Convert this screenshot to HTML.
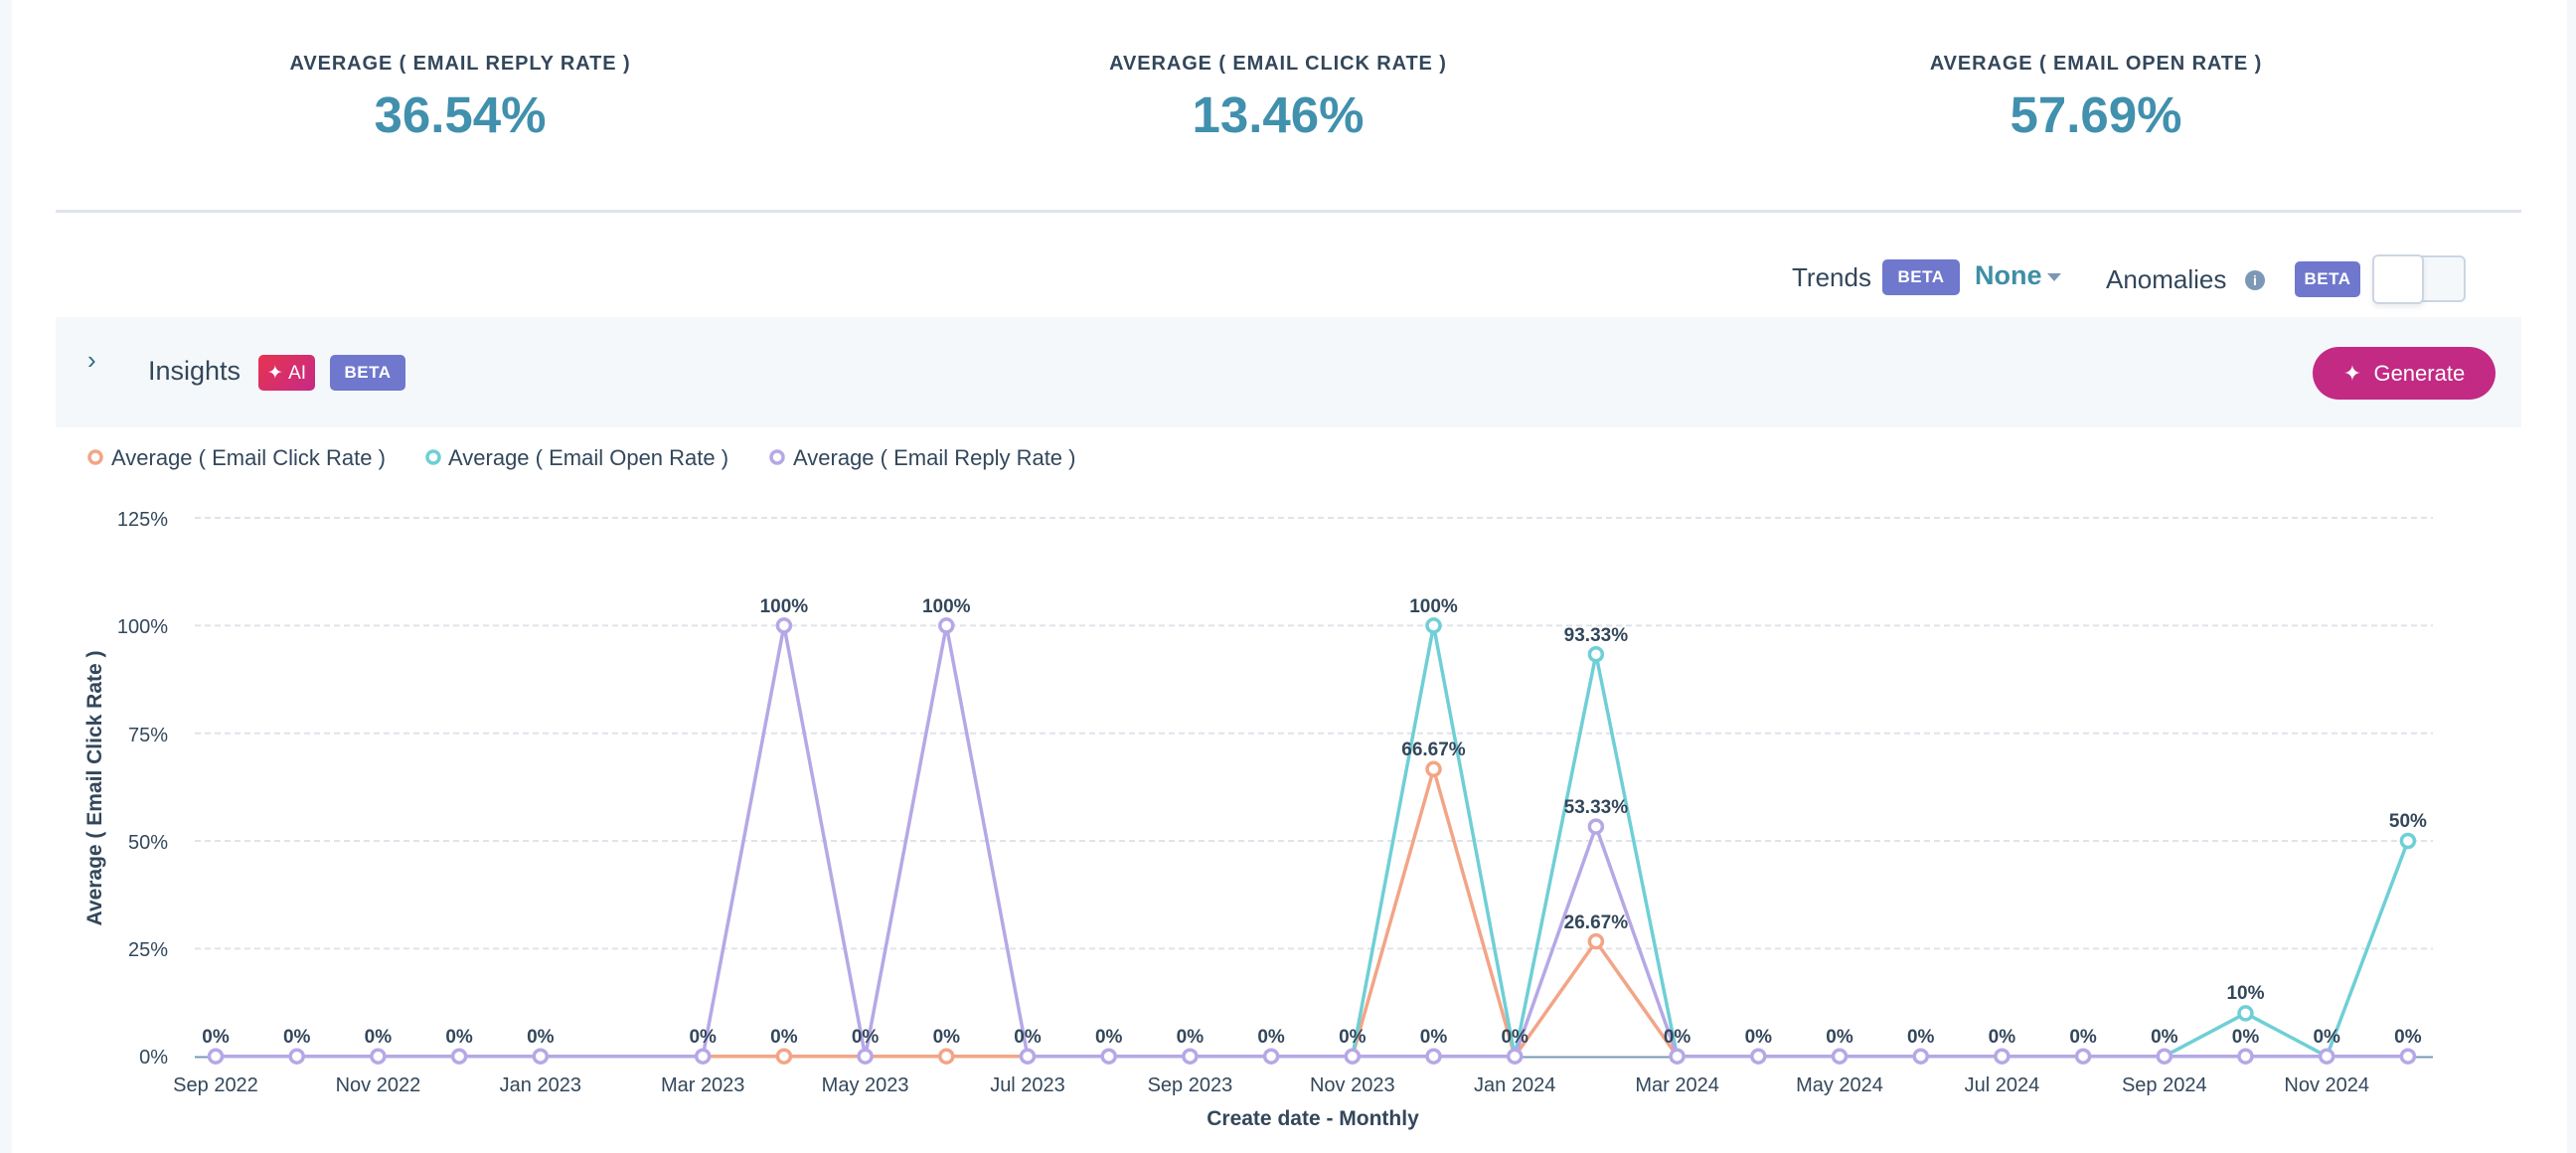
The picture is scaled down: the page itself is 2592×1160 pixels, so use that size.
<!DOCTYPE html>
<html><head><meta charset="utf-8"><style>
*{margin:0;padding:0;box-sizing:border-box}
body{width:2592px;height:1160px;background:#fff;position:relative;overflow:hidden;font-family:"Liberation Sans",sans-serif;color:#33475b}
.abs{position:absolute}
.h{font-weight:bold;font-size:20px;letter-spacing:0.9px;text-align:center;width:700px;top:53px}
.v{font-weight:bold;font-size:51px;color:#4190ad;text-align:center;width:700px;top:86px}
.badge{position:absolute;background:#6f78cc;color:#fff;font-weight:bold;font-size:17px;border-radius:5px;display:flex;align-items:center;justify-content:center;letter-spacing:0.5px}
</style></head><body>
<div class="abs" style="left:0;top:0;width:12px;height:1160px;background:#f5f8fa"></div>
<div class="abs" style="left:2583px;top:0;width:9px;height:1160px;background:#f5f8fa"></div>

<div class="abs h" style="left:113px">AVERAGE ( EMAIL REPLY RATE )</div>
<div class="abs v" style="left:113px">36.54%</div>
<div class="abs h" style="left:936px">AVERAGE ( EMAIL CLICK RATE )</div>
<div class="abs v" style="left:936px">13.46%</div>
<div class="abs h" style="left:1759px">AVERAGE ( EMAIL OPEN RATE )</div>
<div class="abs v" style="left:1759px">57.69%</div>

<div class="abs" style="left:56px;top:211px;width:2481px;height:3px;background:#dfe3eb"></div>

<div class="abs" style="left:1803px;top:264px;font-size:26px">Trends</div>
<div class="badge" style="left:1894px;top:261px;width:78px;height:36px">BETA</div>
<div class="abs" style="left:1987px;top:262px;font-size:27px;font-weight:bold;color:#3f8ea5">None</div>
<div class="abs" style="left:2060px;top:275px;width:0;height:0;border-left:7px solid transparent;border-right:7px solid transparent;border-top:8px solid #7c98b6"></div>
<div class="abs" style="left:2119px;top:266px;font-size:26px">Anomalies</div>
<div class="abs" style="left:2259px;top:272px;width:20px;height:20px;border-radius:50%;background:#7c98b6;color:#fff;font-size:14px;font-weight:bold;text-align:center;line-height:20px">i</div>
<div class="badge" style="left:2309px;top:263px;width:66px;height:36px">BETA</div>
<div class="abs" style="left:2387px;top:257px;width:94px;height:47px;border:2px solid #cbd6e2;border-radius:6px;background:#f5f8fa"></div>
<div class="abs" style="left:2387px;top:256px;width:52px;height:50px;border:2px solid #cbd6e2;border-radius:6px;background:#fff;box-shadow:0 3px 6px rgba(0,0,0,0.08)"></div>

<div class="abs" style="left:56px;top:319px;width:2481px;height:111px;background:#f5f8fa"></div>
<div class="abs" style="left:88px;top:347px;font-size:26px;color:#2d6e80">&#8250;</div>
<div class="abs" style="left:149px;top:358px;font-size:27px">Insights</div>
<div class="abs" style="left:260px;top:357px;width:57px;height:36px;border-radius:5px;background:linear-gradient(135deg,#e8344f,#c52a86);color:#fff;font-size:19px;display:flex;align-items:center;justify-content:center">&#10022;&nbsp;AI</div>
<div class="badge" style="left:332px;top:357px;width:76px;height:36px">BETA</div>
<div class="abs" style="left:2327px;top:349px;width:184px;height:53px;border-radius:27px;background:#c22a84;color:#fff;font-size:22px;display:flex;align-items:center;justify-content:center">&#10022;&nbsp;&nbsp;Generate</div>

<svg class="abs" style="left:0;top:0" width="2592" height="1160" font-family="Liberation Sans, sans-serif">
<g font-size="22" fill="#33475b">
<circle cx="96" cy="460" r="6" fill="#fff" stroke="#f2a586" stroke-width="3.5"/><text x="112" y="468">Average ( Email Click Rate )</text>
<circle cx="436" cy="460" r="6" fill="#fff" stroke="#6fcfd6" stroke-width="3.5"/><text x="451" y="468">Average ( Email Open Rate )</text>
<circle cx="782" cy="460" r="6" fill="#fff" stroke="#b6a8e6" stroke-width="3.5"/><text x="798" y="468">Average ( Email Reply Rate )</text>
</g>
<g stroke="#dfe3eb" stroke-width="2" stroke-dasharray="6,4">
<line x1="196" y1="521" x2="2448" y2="521"/><line x1="196" y1="629.4" x2="2448" y2="629.4"/><line x1="196" y1="737.7" x2="2448" y2="737.7"/><line x1="196" y1="846" x2="2448" y2="846"/><line x1="196" y1="954.4" x2="2448" y2="954.4"/>
</g>
<g font-size="20" fill="#33475b" text-anchor="end">
<text x="169" y="529">125%</text><text x="169" y="637">100%</text><text x="169" y="746">75%</text><text x="169" y="854">50%</text><text x="169" y="962">25%</text><text x="169" y="1070">0%</text>
</g>
<text transform="translate(102,793) rotate(-90)" text-anchor="middle" font-size="21" font-weight="bold" fill="#33475b">Average ( Email Click Rate )</text>
<line x1="196" y1="1063.5" x2="2448" y2="1063.5" stroke="#7c98b6" stroke-width="2"/>
<g font-size="20" fill="#33475b" text-anchor="middle">
<text x="217" y="1098">Sep 2022</text><text x="380.4" y="1098">Nov 2022</text><text x="543.8" y="1098">Jan 2023</text><text x="707.2" y="1098">Mar 2023</text><text x="870.6" y="1098">May 2023</text><text x="1034" y="1098">Jul 2023</text><text x="1197.4" y="1098">Sep 2023</text><text x="1360.8" y="1098">Nov 2023</text><text x="1524.2" y="1098">Jan 2024</text><text x="1687.6" y="1098">Mar 2024</text><text x="1851" y="1098">May 2024</text><text x="2014.4" y="1098">Jul 2024</text><text x="2177.8" y="1098">Sep 2024</text><text x="2341.2" y="1098">Nov 2024</text>
</g>
<text x="1321" y="1132" text-anchor="middle" font-size="21" font-weight="bold" fill="#33475b">Create date - Monthly</text>

<g fill="none" stroke-width="3.5" stroke-linejoin="round">
<polyline stroke="#f2a586" points="707.2,1062.7 788.9,1062.7 870.6,1062.7 952.3,1062.7 1034,1062.7 1115.7,1062.7 1197.4,1062.7 1279.1,1062.7 1360.8,1062.7 1442.5,773.8 1524.2,1062.7 1605.9,947.1 1687.6,1062.7"/>
<polyline stroke="#6fcfd6" points="1360.8,1062.7 1442.5,629.4 1524.2,1062.7 1605.9,658.3 1687.6,1062.7 1769.3,1062.7 1851,1062.7 1932.7,1062.7 2014.4,1062.7 2096.1,1062.7 2177.8,1062.7 2259.5,1019.4 2341.2,1062.7 2422.9,846"/>
<polyline stroke="#b6a8e6" points="217,1062.7 298.7,1062.7 380.4,1062.7 462.1,1062.7 543.8,1062.7 707.2,1062.7 788.9,629.4 870.6,1062.7 952.3,629.4 1034,1062.7 1115.7,1062.7 1197.4,1062.7 1279.1,1062.7 1360.8,1062.7 1442.5,1062.7 1524.2,1062.7 1605.9,831.6 1687.6,1062.7 1769.3,1062.7 1851,1062.7 1932.7,1062.7 2014.4,1062.7 2096.1,1062.7 2177.8,1062.7 2259.5,1062.7 2341.2,1062.7 2422.9,1062.7"/>
</g>
<g fill="#fff" stroke-width="3.5">
<g stroke="#f2a586"><circle cx="788.9" cy="1062.7" r="6.5"/><circle cx="952.3" cy="1062.7" r="6.5"/><circle cx="1442.5" cy="773.8" r="6.5"/><circle cx="1605.9" cy="947.1" r="6.5"/></g>
<g stroke="#6fcfd6"><circle cx="1442.5" cy="629.4" r="6.5"/><circle cx="1605.9" cy="658.3" r="6.5"/><circle cx="2259.5" cy="1019.4" r="6.5"/><circle cx="2422.9" cy="846" r="6.5"/></g>
<g stroke="#b6a8e6"><circle cx="217" cy="1062.7" r="6.5"/><circle cx="298.7" cy="1062.7" r="6.5"/><circle cx="380.4" cy="1062.7" r="6.5"/><circle cx="462.1" cy="1062.7" r="6.5"/><circle cx="543.8" cy="1062.7" r="6.5"/><circle cx="707.2" cy="1062.7" r="6.5"/><circle cx="788.9" cy="629.4" r="6.5"/><circle cx="870.6" cy="1062.7" r="6.5"/><circle cx="952.3" cy="629.4" r="6.5"/><circle cx="1034" cy="1062.7" r="6.5"/><circle cx="1115.7" cy="1062.7" r="6.5"/><circle cx="1197.4" cy="1062.7" r="6.5"/><circle cx="1279.1" cy="1062.7" r="6.5"/><circle cx="1360.8" cy="1062.7" r="6.5"/><circle cx="1442.5" cy="1062.7" r="6.5"/><circle cx="1524.2" cy="1062.7" r="6.5"/><circle cx="1605.9" cy="831.6" r="6.5"/><circle cx="1687.6" cy="1062.7" r="6.5"/><circle cx="1769.3" cy="1062.7" r="6.5"/><circle cx="1851" cy="1062.7" r="6.5"/><circle cx="1932.7" cy="1062.7" r="6.5"/><circle cx="2014.4" cy="1062.7" r="6.5"/><circle cx="2096.1" cy="1062.7" r="6.5"/><circle cx="2177.8" cy="1062.7" r="6.5"/><circle cx="2259.5" cy="1062.7" r="6.5"/><circle cx="2341.2" cy="1062.7" r="6.5"/><circle cx="2422.9" cy="1062.7" r="6.5"/></g>
</g>
<g font-size="19" font-weight="bold" fill="#33475b" text-anchor="middle">
<text x="217" y="1049">0%</text><text x="298.7" y="1049">0%</text><text x="380.4" y="1049">0%</text><text x="462.1" y="1049">0%</text><text x="543.8" y="1049">0%</text><text x="707.2" y="1049">0%</text><text x="788.9" y="1049">0%</text><text x="870.6" y="1049">0%</text><text x="952.3" y="1049">0%</text><text x="1034" y="1049">0%</text><text x="1115.7" y="1049">0%</text><text x="1197.4" y="1049">0%</text><text x="1279.1" y="1049">0%</text><text x="1360.8" y="1049">0%</text><text x="1442.5" y="1049">0%</text><text x="1524.2" y="1049">0%</text><text x="1687.6" y="1049">0%</text><text x="1769.3" y="1049">0%</text><text x="1851" y="1049">0%</text><text x="1932.7" y="1049">0%</text><text x="2014.4" y="1049">0%</text><text x="2096.1" y="1049">0%</text><text x="2177.8" y="1049">0%</text><text x="2259.5" y="1049">0%</text><text x="2341.2" y="1049">0%</text><text x="2422.9" y="1049">0%</text>
<text x="788.9" y="616">100%</text><text x="952.3" y="616">100%</text><text x="1442.5" y="616">100%</text><text x="1442.5" y="760">66.67%</text><text x="1605.9" y="645">93.33%</text><text x="1605.9" y="818">53.33%</text><text x="1605.9" y="934">26.67%</text><text x="2259.5" y="1005">10%</text><text x="2422.9" y="832">50%</text>
</g>
</svg>
</body></html>
